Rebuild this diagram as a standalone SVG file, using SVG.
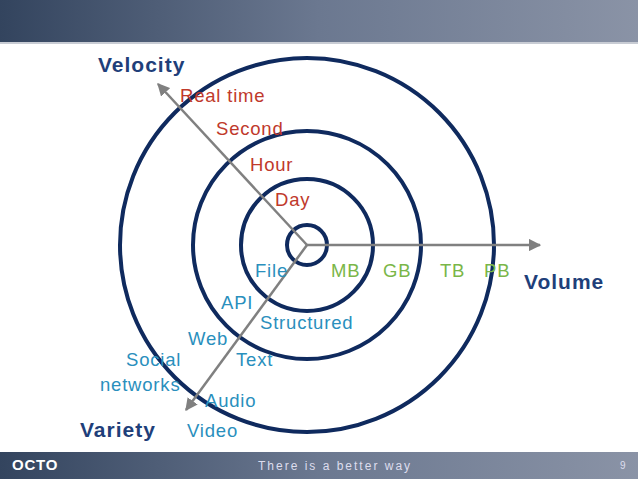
<svg xmlns="http://www.w3.org/2000/svg" width="638" height="479" viewBox="0 0 638 479">
<defs>
<linearGradient id="hg" x1="0" x2="1"><stop offset="0" stop-color="#33445e"/><stop offset="0.5" stop-color="#6b7890"/><stop offset="1" stop-color="#8a93a6"/></linearGradient>
<marker id="ah" viewBox="0 0 10 10" refX="9" refY="5" markerWidth="5" markerHeight="5" orient="auto"><path d="M0,0L10,5L0,10z" fill="#808080"/></marker>
<style>
.r{fill:none;stroke:#0f2a5e;stroke-width:4}
.a{stroke:#808080;stroke-width:2.5;fill:none;marker-end:url(#ah)}
text{font-family:"Liberation Sans",Arial,sans-serif;font-size:18.5px;letter-spacing:0.8px}
.red{fill:#c0392b}.grn{fill:#7ab648}.blu{fill:#2a8fbd}.ax{fill:#1f3f7a;font-weight:bold;font-size:21px;letter-spacing:1px}
</style>
</defs>
<rect width="638" height="479" fill="#fff"/>
<rect width="638" height="42" fill="url(#hg)"/>
<rect y="42" width="638" height="2" fill="#c8ccd4"/>
<rect y="452" width="638" height="27" fill="url(#hg)"/>
<text x="12" y="470" fill="#fff" font-weight="bold" style="font-size:15px">OCTO</text>
<text x="258" y="470" fill="#dde" style="font-size:12px;letter-spacing:2px">There is a better way</text>
<text x="620" y="469" fill="#dde" style="font-size:10px">9</text>
<g id="rings">
<circle class="r" cx="307" cy="245" r="20"/>
<circle class="r" cx="307" cy="245" r="66"/>
<circle class="r" cx="307" cy="245" r="114"/>
<circle class="r" cx="307" cy="245" r="187"/>
</g>
<g id="connectors">
<line class="a" x1="307" y1="245" x2="158" y2="84"/>
<line class="a" x1="307" y1="245" x2="540" y2="245"/>
<line class="a" x1="307" y1="245" x2="186" y2="410"/>
</g>
<g id="labels">
<text class="ax" x="98" y="72">Velocity</text>
<text class="ax" x="524" y="289">Volume</text>
<text class="ax" x="80" y="437">Variety</text>
<text class="red" x="180" y="102">Real time</text>
<text class="red" x="216" y="135">Second</text>
<text class="red" x="250" y="171">Hour</text>
<text class="red" x="275" y="206">Day</text>
<text class="grn" x="331" y="277">MB</text>
<text class="grn" x="383" y="277">GB</text>
<text class="grn" x="440" y="277">TB</text>
<text class="grn" x="484" y="277">PB</text>
<text class="blu" x="255" y="277">File</text>
<text class="blu" x="221" y="309">API</text>
<text class="blu" x="260" y="329">Structured</text>
<text class="blu" x="188" y="345">Web</text>
<text class="blu" x="236" y="366">Text</text>
<text class="blu" x="126" y="366">Social</text>
<text class="blu" x="100" y="391">networks</text>
<text class="blu" x="205" y="407">Audio</text>
<text class="blu" x="187" y="437">Video</text>
</g>
</svg>
